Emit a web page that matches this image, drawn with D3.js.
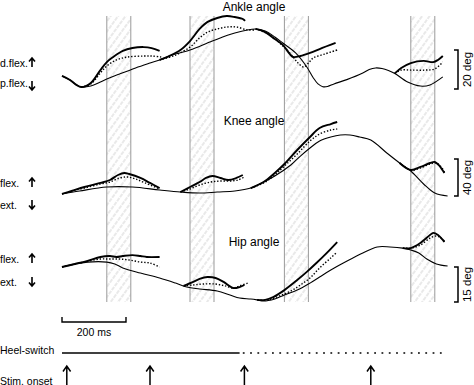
<!DOCTYPE html>
<html><head><meta charset="utf-8">
<script src="https://cdn.jsdelivr.net/npm/d3@7"></script>
<style>
body{margin:0;background:#fff}
svg{display:block}
text{font-family:"Liberation Sans",Arial,Helvetica,sans-serif;fill:#000}
</style>
</head><body>
<svg id="c" width="474" height="385"></svg>
<script>
// ---------- DATA (time in ms, angles in deg) ----------
const stimOnsets = [15, 275, 570, 965];
const stimWindows = [[140, 215], [400, 475], [695, 770], [1090, 1165]];
const heelSolid = [0, 555];
const heelDotted = [565, 1195];
const timeBar = 200;

// Ankle
const ankleControl = [[0,6.7],[25,4.6],[45,2.1],[60,1.0],[90,1.5],[120,3.6],[140,5.1],[180,7.7],[230,10.8],[275,13.3],[305,14.9],[335,16.9],[400,20.0],[470,24.6],[540,28.7],[605,30.8],[635,29.7],[665,26.7],[690,23.6],[730,18.5],[765,11.3],[785,5.8],[800,2.6],[815,1.2],[830,1.3],[850,2.6],[890,4.8],[940,8.2],[960,10.0],[980,10.8],[1000,10.5],[1020,9.5],[1040,8.0],[1080,3.6],[1120,1.5],[1150,2.1],[1190,6.2]];
const ankleSolid = [
  [[0,6.7],[25,4.6],[45,2.1],[60,1.0],[90,3.1],[120,9.7],[140,13.8],[160,16.4],[190,19.5],[220,21.0],[255,21.5],[280,21.0],[305,19.5]],
  [[305,14.9],[335,16.9],[370,20.0],[400,24.6],[430,30.8],[455,34.4],[485,36.4],[515,37.4],[540,36.9],[565,35.9],[572,34.9]],
  [[605,30.8],[635,29.2],[665,25.6],[690,22.6],[712,17.9],[722,16.4],[745,16.9],[775,18.5],[805,20.5],[855,23.6]],
  [[1040,8.0],[1060,10.8],[1090,13.3],[1130,14.4],[1160,13.8],[1175,14.9],[1190,16.9]]
];
const ankleDotted = [
  [[60,1.0],[90,2.6],[120,8.2],[140,11.8],[170,14.9],[205,16.4],[255,16.9],[280,16.9],[310,16.4]],
  [[305,14.9],[355,17.4],[400,21.5],[430,26.2],[455,29.2],[485,30.8],[515,31.8],[545,31.8],[580,30.3],[605,30.3]],
  [[605,30.8],[650,27.7],[690,22.1],[720,16.9],[735,13.8],[755,11.3],[770,13.3],[785,15.9],[820,17.9],[860,20.0]],
  [[1040,8.0],[1060,9.7],[1090,9.7],[1135,9.7],[1165,10.3],[1190,13.8]]
];

// Knee
const kneeControl = [[0,2.2],[55,5.4],[140,9.7],[220,9.7],[305,6.5],[370,4.3],[430,3.2],[485,4.3],[540,5.4],[590,8.6],[630,15.1],[665,21.6],[715,33.5],[745,43.2],[775,51.9],[805,59.5],[840,63.8],[870,65.9],[900,65.9],[930,63.8],[965,60.5],[1015,46.5],[1055,35.7],[1090,27.0],[1130,13.0],[1165,3.2],[1205,0]];
const kneeSolid = [
  [[0,2.2],[30,5.4],[70,9.7],[120,14.1],[150,17.3],[175,22.7],[195,24.9],[210,23.8],[245,19.5],[275,14.1],[305,8.6]],
  [[370,4.3],[400,9.7],[430,15.1],[450,19.5],[470,21.6],[495,19.5],[520,17.3],[545,19.5],[565,22.7]],
  [[590,8.6],[630,15.1],[665,24.9],[695,34.6],[735,49.7],[775,63.8],[805,73.5],[840,77.8],[860,80.0]],
  [[1055,35.7],[1090,28.1],[1120,31.4],[1150,35.7],[1165,36.8],[1180,32.4],[1195,24.9]]
];
const kneeDotted = [
  [[0,2.2],[30,5.4],[70,8.6],[120,13.0],[150,15.1],[180,19.5],[205,20.5],[230,18.4],[260,14.1],[305,7.6]],
  [[370,4.3],[400,7.6],[430,11.9],[465,15.1],[495,16.2],[525,16.2],[550,17.3],[570,20.5]],
  [[590,8.6],[630,14.1],[665,22.7],[695,32.4],[735,45.4],[775,59.5],[805,67.0],[840,71.3],[860,72.4]],
  [[1055,35.7],[1090,28.1],[1120,30.3],[1150,34.6],[1170,35.7],[1185,31.4],[1195,25.9]]
];

// Hip
const hipControl = [[0,15.0],[40,16.3],[80,17.1],[140,17.1],[165,16.3],[190,14.6],[245,12.4],[305,10.3],[355,8.1],[390,6.4],[430,5.6],[485,4.7],[525,3.0],[555,1.7],[590,1.3],[610,0.9],[630,0.4],[665,1.3],[695,3.0],[735,5.1],[775,8.1],[805,10.7],[840,13.7],[885,17.1],[940,21.0],[985,23.6],[1025,23.6],[1065,23.1],[1090,22.3],[1115,21.0],[1140,18.4],[1170,16.3],[1205,15.4]];
const hipSolid = [
  [[0,15.0],[40,16.3],[80,17.6],[120,19.3],[150,19.7],[170,19.3],[190,19.7],[220,20.1],[245,19.7],[265,19.3],[305,19.3]],
  [[380,6.9],[410,8.6],[430,9.9],[455,10.7],[480,10.3],[505,8.6],[535,6.0],[555,6.4],[570,7.3]],
  [[610,0.9],[635,0.9],[660,2.1],[695,5.1],[735,9.4],[765,12.9],[795,16.7],[830,21.4],[860,25.7]],
  [[1065,23.1],[1090,23.1],[1120,25.3],[1150,28.7],[1160,29.6],[1175,28.7],[1190,26.6],[1195,25.7]]
];
const hipDotted = [
  [[0,15.0],[55,16.7],[120,18.4],[150,18.4],[180,18.4],[210,18.0],[245,17.1],[275,16.7],[305,15.0]],
  [[380,6.9],[410,7.3],[440,7.7],[480,7.7],[510,6.9],[535,6.0],[555,6.9],[580,8.1]],
  [[610,0.9],[645,0.9],[680,2.6],[715,4.7],[745,7.3],[775,10.3],[805,14.6],[840,18.9],[860,21.4]],
  [[1065,23.1],[1090,23.1],[1120,24.4],[1150,27.4],[1170,28.3],[1185,27.4],[1195,26.1]]
];

const panelTitles = ["Ankle angle", "Knee angle", "Hip angle"];
const upLabels = ["d.flex.", "flex.", "flex."];
const downLabels = ["p.flex.", "ext.", "ext."];
const scaleDeg = [20, 40, 15];
const scaleLabels = ["20 deg", "40 deg", "15 deg"];

// ---------- LAYOUT ----------
const svg = d3.select("#c");
const x = d3.scaleLinear().domain([0, 1200]).range([62, 446]);
const panels = [
  {ctrl: ankleControl, solid: ankleSolid, dotted: ankleDotted, y: d3.scaleLinear().domain([0, 20]).range([89, 50]), titleY: 10.5, upY: 67, downY: 87, upA: 67, downA: 90},
  {ctrl: kneeControl, solid: kneeSolid, dotted: kneeDotted, y: d3.scaleLinear().domain([0, 40]).range([196, 159]), titleY: 125, upY: 187, downY: 209, upA: 187, downA: 209},
  {ctrl: hipControl, solid: hipSolid, dotted: hipDotted, y: d3.scaleLinear().domain([0, 15]).range([302, 267]), titleY: 246, upY: 263, downY: 286, upA: 263, downA: 286}
];

// hatch pattern
const defs = svg.append("defs");
const pat = defs.append("pattern").attr("id", "hatch").attr("patternUnits", "userSpaceOnUse")
  .attr("width", 6).attr("height", 10).attr("patternTransform", "rotate(36)");
pat.append("line").attr("x1", 3).attr("x2", 3).attr("y1", 0).attr("y2", 10)
  .attr("stroke", "#c8c8c8").attr("stroke-width", 0.8).attr("stroke-dasharray", "4,1");

const bandTop = 16, bandBot = 302;
const bands = svg.append("g");
stimWindows.forEach(w => {
  bands.append("rect").attr("x", x(w[0])).attr("y", bandTop).attr("width", x(w[1]) - x(w[0])).attr("height", bandBot - bandTop)
    .attr("fill", "url(#hatch)");
  [w[0], w[1]].forEach(t => bands.append("line").attr("x1", x(t)).attr("x2", x(t)).attr("y1", bandTop).attr("y2", bandBot)
    .attr("stroke", "#9a9a9a").attr("stroke-width", 1));
});

panels.forEach((p, i) => {
  const line = d3.line().x(d => x(d[0])).y(d => p.y(d[1])).curve(d3.curveCatmullRom.alpha(0.5));
  const g = svg.append("g");
  g.append("path").attr("d", line(p.ctrl)).attr("fill", "none").attr("stroke", "#000").attr("stroke-width", 1.1);
  p.dotted.forEach(s => g.append("path").attr("d", line(s)).attr("fill", "none").attr("stroke", "#000")
    .attr("stroke-width", 1.4).attr("stroke-dasharray", "1.4,1.8"));
  p.solid.forEach(s => g.append("path").attr("d", line(s)).attr("fill", "none").attr("stroke", "#000").attr("stroke-width", 1.9));

  svg.append("text").attr("x", 254).attr("y", p.titleY).attr("text-anchor", "middle").attr("font-size", 12).text(panelTitles[i]);
  svg.append("text").attr("x", 0).attr("y", p.upY).attr("font-size", 10.5).text(upLabels[i]);
  svg.append("text").attr("x", 0).attr("y", p.downY).attr("font-size", 10.5).text(downLabels[i]);
  // direction arrows
  svg.append("path").attr("d", `M32,${p.upA}V${p.upA - 9}M29,${p.upA - 5.5}L32,${p.upA - 9}L35,${p.upA - 5.5}`)
    .attr("fill", "none").attr("stroke", "#000").attr("stroke-width", 1.6);
  svg.append("path").attr("d", `M32,${p.downA - 9}V${p.downA}M29,${p.downA - 3.5}L32,${p.downA}L35,${p.downA - 3.5}`)
    .attr("fill", "none").attr("stroke", "#000").attr("stroke-width", 1.6);

  // scale bracket
  const y0 = p.y(0), y1 = p.y(scaleDeg[i]);
  svg.append("path").attr("d", `M454,${y1}H458V${y0}H454`).attr("fill", "none").attr("stroke", "#000").attr("stroke-width", 1.5);
  svg.append("text").attr("transform", `translate(471,${(y0 + y1) / 2}) rotate(-90)`).attr("text-anchor", "middle")
    .attr("font-size", 11.5).text(scaleLabels[i]);
});

// time scale bar
svg.append("path").attr("d", `M${x(0)},317V322H${x(timeBar)}V317`).attr("fill", "none").attr("stroke", "#000").attr("stroke-width", 1.4);
svg.append("text").attr("x", (x(0) + x(timeBar)) / 2).attr("y", 336).attr("text-anchor", "middle").attr("font-size", 10.5).text(timeBar + " ms");

// heel switch
svg.append("text").attr("x", 0).attr("y", 353.5).attr("font-size", 10.5).text("Heel-switch");
svg.append("line").attr("x1", x(heelSolid[0])).attr("x2", x(heelSolid[1])).attr("y1", 353).attr("y2", 353).attr("stroke", "#000").attr("stroke-width", 1.5);
svg.append("line").attr("x1", x(heelDotted[0])).attr("x2", x(heelDotted[1])).attr("y1", 353).attr("y2", 353).attr("stroke", "#000")
  .attr("stroke-width", 1.5).attr("stroke-dasharray", "1.8,5.5");

// stim onsets
svg.append("text").attr("x", 0).attr("y", 384.5).attr("font-size", 10.5).text("Stim. onset");
stimOnsets.forEach(t => {
  const xx = x(t);
  svg.append("path").attr("d", `M${xx},385V366M${xx - 3.8},371.5L${xx},366L${xx + 3.8},371.5`)
    .attr("fill", "none").attr("stroke", "#000").attr("stroke-width", 1.5);
});
</script>
</body></html>
